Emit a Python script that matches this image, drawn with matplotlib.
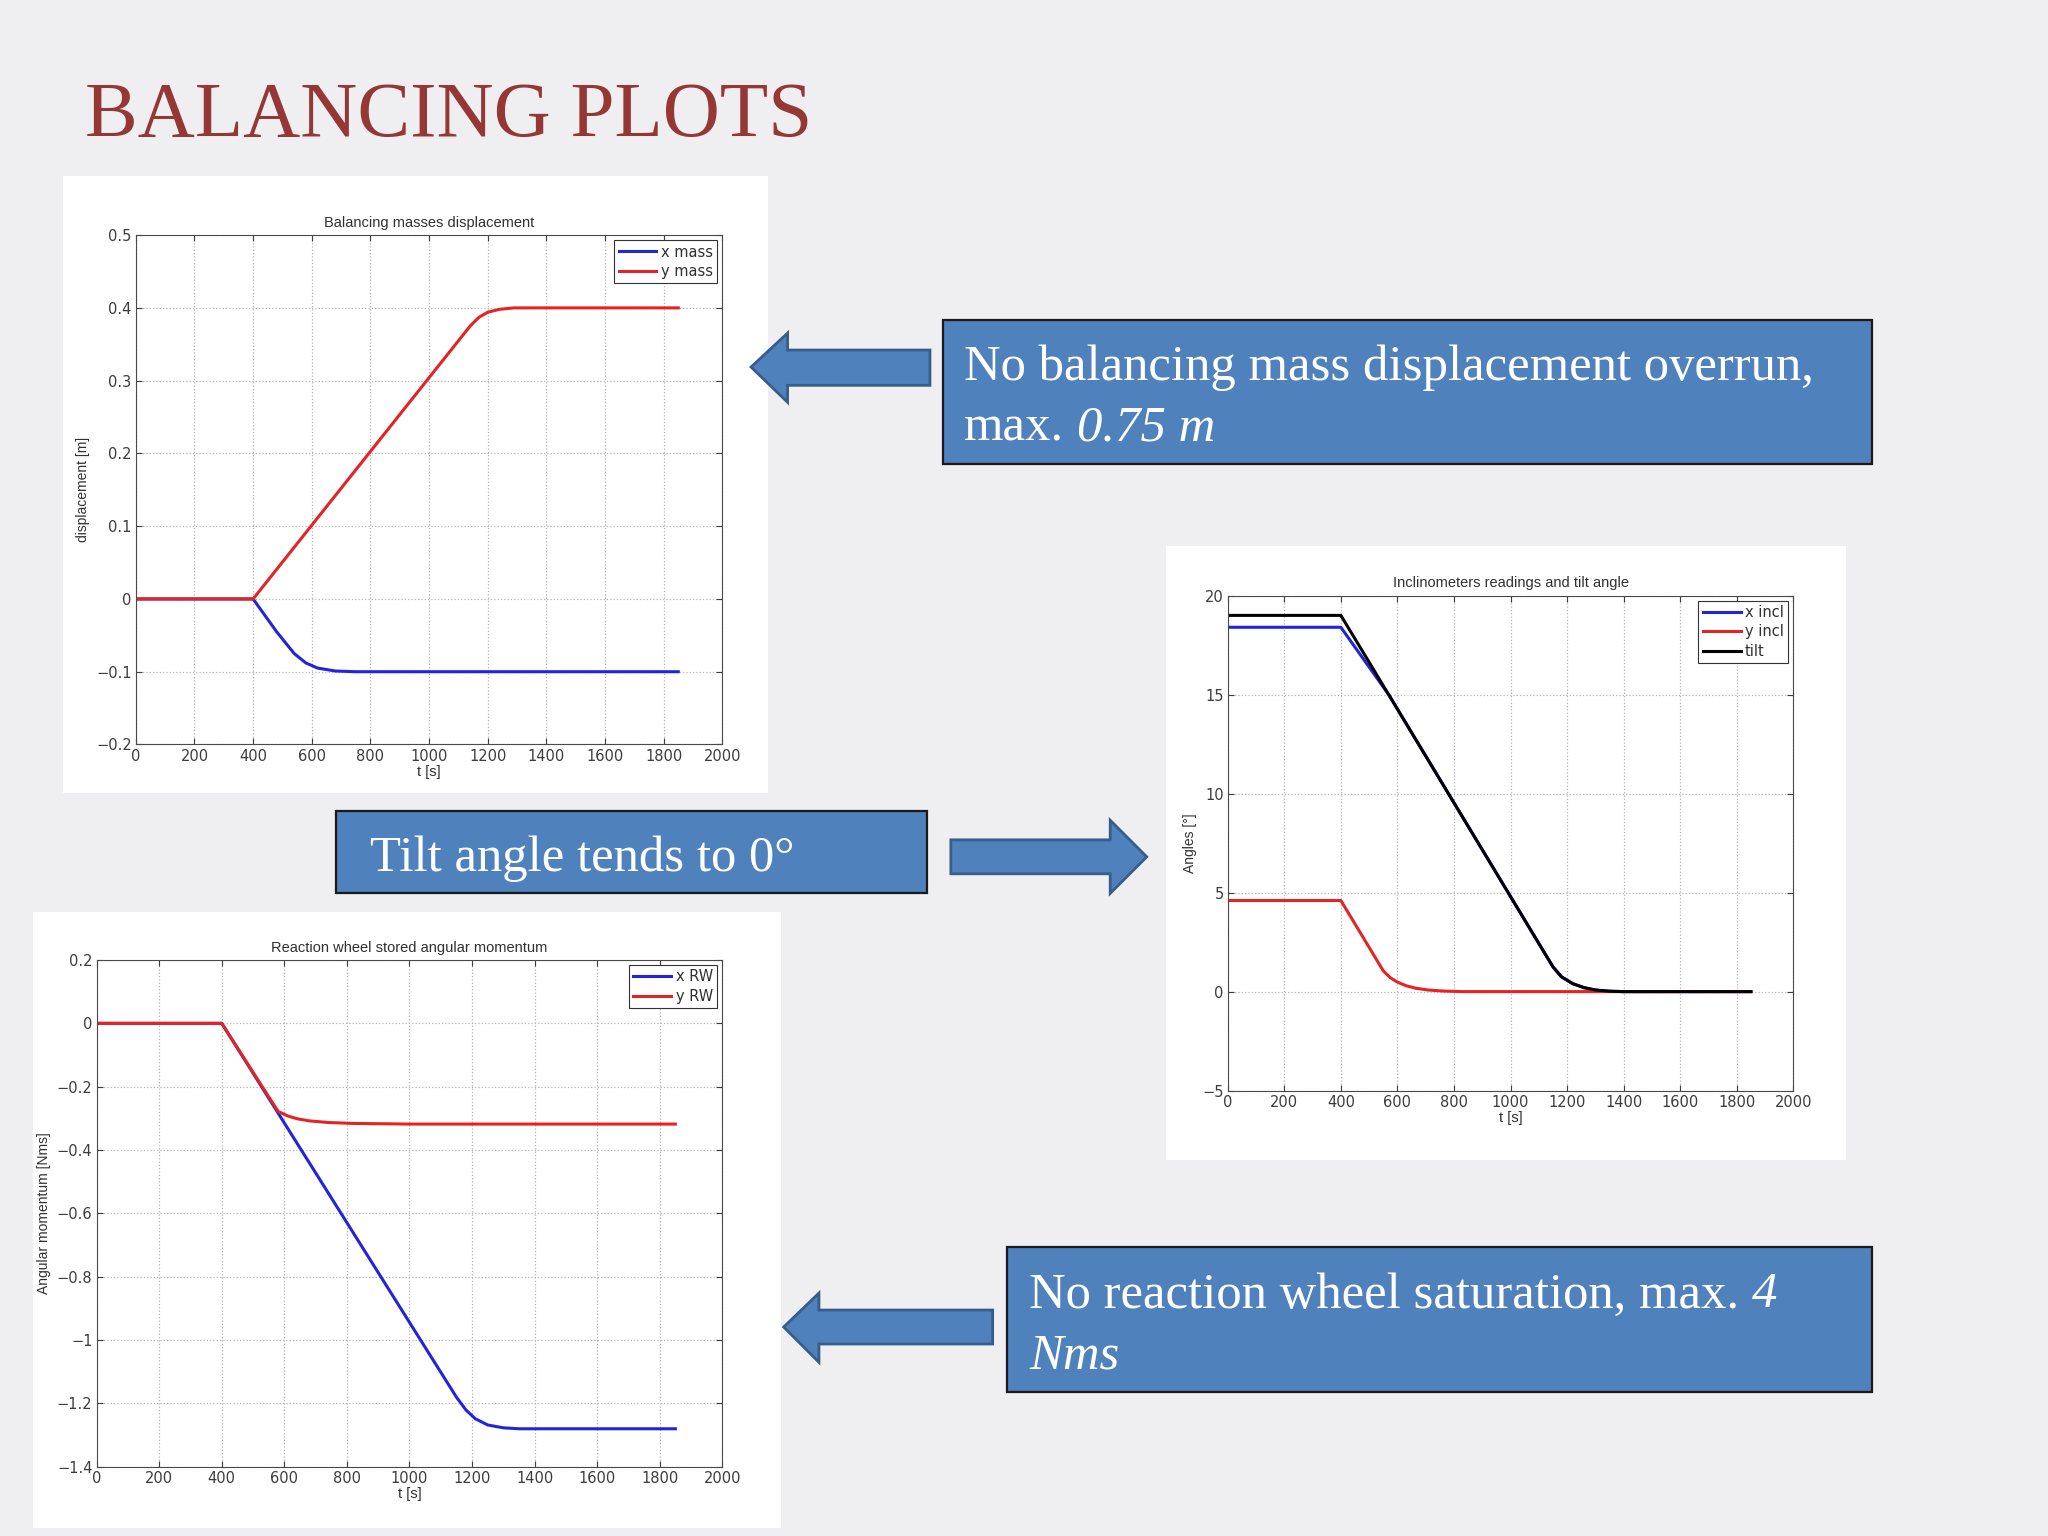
import matplotlib
matplotlib.use("Agg")
import matplotlib.pyplot as plt
from matplotlib.patches import Rectangle, Polygon

# ---- data ----
t_ticks = [0, 200, 400, 600, 800, 1000, 1200, 1400, 1600, 1800, 2000]

# balancing masses displacement [m]
t_xmass = [0, 400, 480, 540, 580, 620, 680, 750, 1850]
x_mass = [0, 0, -0.045, -0.075, -0.088, -0.095, -0.099, -0.1, -0.1]
t_ymass = [0, 400, 1140, 1170, 1200, 1240, 1290, 1850]
y_mass = [0, 0, 0.375, 0.387, 0.394, 0.398, 0.40, 0.40]
disp_ticks = [-0.2, -0.1, 0, 0.1, 0.2, 0.3, 0.4, 0.5]

# inclinometers readings and tilt angle [deg]
t_xincl = [0, 400, 570, 1150, 1180, 1220, 1260, 1300, 1350, 1400, 1850]
x_incl = [18.4, 18.4, 14.98, 1.25, 0.75, 0.4, 0.2, 0.08, 0.02, 0, 0]
t_yincl = [0, 400, 550, 575, 600, 630, 665, 710, 760, 830, 1850]
y_incl = [4.6, 4.6, 1.05, 0.7, 0.48, 0.3, 0.17, 0.08, 0.03, 0, 0]
t_tilt = [0, 400, 1150, 1180, 1220, 1260, 1300, 1350, 1400, 1850]
tilt = [19, 19, 1.25, 0.75, 0.4, 0.2, 0.08, 0.02, 0, 0]
angle_ticks = [-5, 0, 5, 10, 15, 20]

# reaction wheel stored angular momentum [Nms]
t_xrw = [0, 400, 1150, 1180, 1210, 1250, 1300, 1350, 1850]
x_rw = [0, 0, -1.18, -1.22, -1.248, -1.268, -1.277, -1.28, -1.28]
t_yrw = [0, 400, 580, 610, 640, 680, 740, 820, 1000, 1850]
y_rw = [0, 0, -0.278, -0.292, -0.301, -0.308, -0.313, -0.316, -0.318, -0.318]
rw_ticks = [-1.4, -1.2, -1, -0.8, -0.6, -0.4, -0.2, 0, 0.2]

# ---- slide geometry (slide units, 1568 x 1176) ----
W, H = 1568, 1176
BG = "#efeff1"
BOX = "#4f81bd"
BOX_EDGE = "#385d8a"
BLUE = "#2323dc"
RED = "#e42424"
SERIF = ["Liberation Serif", "DejaVu Serif"]
SANS = ["Liberation Sans", "DejaVu Sans"]


def rect(left, top, right, bottom):
    return [left / W, 1 - bottom / H, (right - left) / W, (bottom - top) / H]


def style_axes(ax, yticks, title, ylabel):
    ax.set_xlim(0, 2000)
    ax.set_ylim(yticks[0], yticks[-1])
    ax.set_xticks(t_ticks)
    ax.set_xticklabels([f"{v:g}" for v in t_ticks])
    ax.set_yticks(yticks)
    ax.set_yticklabels([f"{v:g}".replace("-", "\u2212") for v in yticks])
    ax.grid(True, linestyle=":", color="#b4b4b4", linewidth=0.9)
    ax.tick_params(direction="in", top=True, right=True, length=4,
                   labelsize=10.5, colors="#3c3c3c", pad=3)
    for sp in ax.spines.values():
        sp.set_color("#4a4a4a")
        sp.set_linewidth(0.8)
    ax.set_title(title, fontsize=10.5, color="#303030", pad=6, family=SANS)
    ax.set_xlabel("t [s]", fontsize=10.5, color="#303030", labelpad=1, family=SANS)
    ax.set_ylabel(ylabel, fontsize=10, color="#303030", labelpad=4, family=SANS)
    leg = ax.legend(loc="upper right", fontsize=10.5, fancybox=False, framealpha=1,
                    edgecolor="#333333", handlelength=2.6, handletextpad=0.3,
                    labelspacing=0.3, borderpad=0.3, borderaxespad=0.35)
    leg.get_frame().set_linewidth(0.8)
    for txt in leg.get_texts():
        txt.set_color("#303030")


fig = plt.figure(figsize=(20.48, 15.36), dpi=100, facecolor=BG)
bg = fig.add_axes([0, 0, 1, 1])
bg.set_xlim(0, W)
bg.set_ylim(H, 0)
bg.axis("off")

# white panels behind the three plots
for (l, t, r, b) in [(48, 135, 588, 607), (893, 418, 1413, 888), (25, 698, 598, 1170)]:
    bg.add_patch(Rectangle((l, t), r - l, b - t, facecolor="white", edgecolor="none", zorder=1))

# slide title
bg.text(65, 104, "BALANCING PLOTS", fontsize=57, color="#953735", family=SERIF,
        va="baseline", ha="left", zorder=5)

# blue text boxes
for (l, t, r, b) in [(722, 245, 1433, 355), (257, 621, 710, 684), (771, 955, 1433, 1066)]:
    bg.add_patch(Rectangle((l, t), r - l, b - t, facecolor=BOX, edgecolor="#1a1a1a",
                           linewidth=1.6, zorder=3))

# block arrows
arrows = [
    [(575, 281), (603, 255), (603, 268), (712, 268), (712, 295), (603, 295), (603, 308)],
    [(878, 656), (850, 628), (850, 643), (728, 643), (728, 669), (850, 669), (850, 684)],
    [(600, 1016), (627, 990), (627, 1003), (760, 1003), (760, 1029), (627, 1029), (627, 1043)],
]
for pts in arrows:
    bg.add_patch(Polygon(pts, closed=True, facecolor=BOX, edgecolor=BOX_EDGE,
                         linewidth=2, zorder=4))

BIG = 36.5


def box_line(x, y, parts):
    prev = None
    for s, italic in parts:
        st = "italic" if italic else "normal"
        if prev is None:
            prev = bg.text(x, y, s, fontsize=BIG, color="white", family=SERIF,
                           style=st, va="baseline", ha="left", zorder=6)
        else:
            prev = bg.annotate(s, xy=(1, 0), xycoords=prev, xytext=(9, 0),
                               textcoords="offset points", fontsize=BIG, color="white",
                               family=SERIF, style=st, va="bottom", ha="left", zorder=6)


box_line(738, 291, [("No balancing mass displacement overrun,", False)])
box_line(738, 337, [("max.", False), ("0.75 m", True)])
box_line(283, 667, [("Tilt angle tends to 0°", False)])
box_line(788, 1001, [("No reaction wheel saturation, max.", False), ("4", True)])
box_line(788, 1048, [("Nms", True)])

# ---- plot 1: balancing masses displacement ----
ax1 = fig.add_axes(rect(104, 180, 553, 570))
ax1.plot(t_xmass, x_mass, color=BLUE, lw=2.2, label="x mass")
ax1.plot(t_ymass, y_mass, color=RED, lw=2.2, label="y mass")
style_axes(ax1, disp_ticks, "Balancing masses displacement", "displacement [m]")

# ---- plot 2: inclinometers ----
ax2 = fig.add_axes(rect(940, 456, 1373, 835))
ax2.plot(t_xincl, x_incl, color=BLUE, lw=2.2, label="x incl")
ax2.plot(t_yincl, y_incl, color=RED, lw=2.2, label="y incl")
ax2.plot(t_tilt, tilt, color="black", lw=2.2, label="tilt")
style_axes(ax2, angle_ticks, "Inclinometers readings and tilt angle", "Angles [°]")

# ---- plot 3: reaction wheel momentum ----
ax3 = fig.add_axes(rect(74, 735, 553, 1123))
ax3.plot(t_xrw, x_rw, color=BLUE, lw=2.2, label="x RW")
ax3.plot(t_yrw, y_rw, color=RED, lw=2.2, label="y RW")
style_axes(ax3, rw_ticks, "Reaction wheel stored angular momentum", "Angular momentum [Nms]")

fig.savefig("out.png", dpi=100, facecolor=BG)
